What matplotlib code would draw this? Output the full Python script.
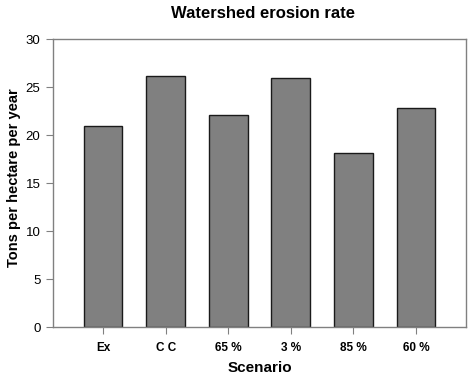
import matplotlib
matplotlib.use("Agg")
import matplotlib.pyplot as plt

plt.rcParams['font.family'] = ['Liberation Sans', 'DejaVu Sans']

scenarios = ["Ex", "C C", "65 %", "3 %", "85 %", "60 %"]
erosion = [20.9, 26.1, 22.1, 25.9, 18.1, 22.8]
yticks = [0, 5, 10, 15, 20, 25, 30]

fig = plt.figure(figsize=(4.74, 3.8), dpi=100)
ax = fig.add_axes([53/474, 1-327/380, (466-53)/474, (327-39)/380])

x = range(len(scenarios))
ax.bar(x, erosion, width=0.62, color="#808080", edgecolor="#1a1a1a", linewidth=1.0)

ax.set_xlim(-0.8, len(scenarios) - 0.2)
ax.set_ylim(0, 30)
ax.set_yticks(yticks)
ax.set_xticks(list(x))
ax.set_xticklabels(scenarios, fontweight="bold", fontsize=8.5)
ax.tick_params(axis='y', labelsize=9.5, colors="#808080", labelcolor="black", length=5, direction='out', pad=4)
ax.tick_params(axis='x', colors="#808080", labelcolor="black", length=5, direction='out', pad=6)
for s in ax.spines.values():
    s.set_color("#808080")
    s.set_linewidth(1.0)

ax.set_xlabel("Scenario", fontweight="bold", fontsize=11)
ax.xaxis.set_label_coords(0.5, -(368 - 327) / (327 - 39), transform=ax.transAxes)
ax.xaxis.label.set_va("center")
ax.set_ylabel("Tons per hectare per year", fontweight="bold", fontsize=10.5)
ax.yaxis.set_label_coords(-(53 - 14) / (466 - 53), (327 - 178) / (327 - 39), transform=ax.transAxes)
ax.yaxis.label.set_va("center")
fig.text(263/474, 1-14/380, "Watershed erosion rate", ha="center", va="center", fontweight="bold", fontsize=12)

fig.savefig("out.png", dpi=100, facecolor="white")
